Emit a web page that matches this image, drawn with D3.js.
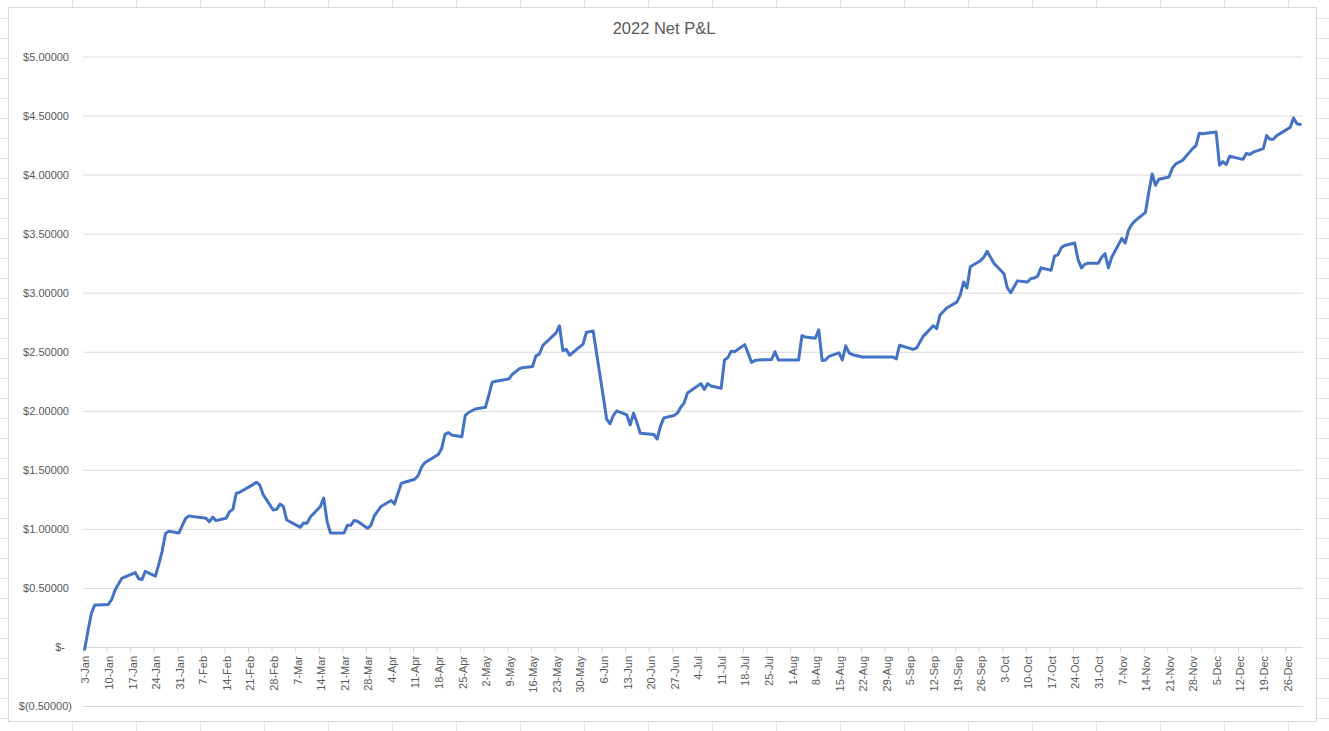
<!DOCTYPE html>
<html>
<head>
<meta charset="utf-8">
<script src="https://cdn.jsdelivr.net/npm/d3@7"></script>
<style>
  body { margin: 0; background: #fff; }
  svg { display: block; font-family: "Liberation Sans", Arial, sans-serif; }
</style>
</head>
<body>
<svg width="1329" height="731"></svg>
<script>
// trading days of 2022 (MM-DD) and cumulative net P&L
var tradeDates = [
  "01-03","01-04","01-05","01-06","01-07","01-10","01-11","01-12","01-13","01-14","01-18","01-19","01-20","01-21","01-24","01-25","01-26","01-27","01-28","01-31",
  "02-01","02-02","02-03","02-04","02-07","02-08","02-09","02-10","02-11","02-14","02-15","02-16","02-17","02-18","02-22","02-23","02-24","02-25","02-28",
  "03-01","03-02","03-03","03-04","03-07","03-08","03-09","03-10","03-11","03-14","03-15","03-16","03-17","03-18","03-21","03-22","03-23","03-24","03-25","03-28","03-29","03-30","03-31",
  "04-01","04-04","04-05","04-06","04-07","04-08","04-11","04-12","04-13","04-14","04-18","04-19","04-20","04-21","04-22","04-25","04-26","04-27","04-28","04-29",
  "05-02","05-03","05-04","05-05","05-06","05-09","05-10","05-11","05-12","05-13","05-16","05-17","05-18","05-19","05-20","05-23","05-24","05-25","05-26","05-27","05-31",
  "06-01","06-02","06-03","06-06","06-07","06-08","06-09","06-10","06-13","06-14","06-15","06-16","06-17","06-21","06-22","06-23","06-24","06-27","06-28","06-29","06-30",
  "07-01","07-05","07-06","07-07","07-08","07-11","07-12","07-13","07-14","07-15","07-18","07-19","07-20","07-21","07-22","07-25","07-26","07-27","07-28","07-29",
  "08-01","08-02","08-03","08-04","08-05","08-08","08-09","08-10","08-11","08-12","08-15","08-16","08-17","08-18","08-19","08-22","08-23","08-24","08-25","08-26","08-29","08-30","08-31",
  "09-01","09-02","09-06","09-07","09-08","09-09","09-12","09-13","09-14","09-15","09-16","09-19","09-20","09-21","09-22","09-23","09-26","09-27","09-28","09-29","09-30",
  "10-03","10-04","10-05","10-06","10-07","10-10","10-11","10-12","10-13","10-14","10-17","10-18","10-19","10-20","10-21","10-24","10-25","10-26","10-27","10-28","10-31",
  "11-01","11-02","11-03","11-04","11-07","11-08","11-09","11-10","11-11","11-14","11-15","11-16","11-17","11-18","11-21","11-22","11-23","11-25","11-28","11-29","11-30",
  "12-01","12-02","12-05","12-06","12-07","12-08","12-09","12-12","12-13","12-14","12-15","12-16","12-19","12-20","12-21","12-22","12-23","12-27","12-28","12-29","12-30"
];

var netPL = [
  -0.02,0.14,0.285,0.355,0.355,0.36,0.40,0.48,0.53,0.58,0.63,0.58,0.57,0.64,0.60,0.70,0.81,0.96,0.98,0.965,
  1.03,1.09,1.11,1.105,1.095,1.09,1.06,1.10,1.07,1.09,1.145,1.165,1.30,1.31,1.375,1.395,1.37,1.29,1.16,
  1.165,1.21,1.19,1.075,1.03,1.014,1.05,1.048,1.10,1.19,1.26,1.06,0.965,0.965,0.965,1.03,1.03,1.07,1.065,1.005,1.03,1.11,1.15,
  1.19,1.24,1.21,1.30,1.385,1.395,1.42,1.45,1.52,1.56,1.63,1.68,1.80,1.815,1.795,1.78,1.96,1.985,2.00,2.015,
  2.03,2.13,2.24,2.25,2.255,2.27,2.31,2.33,2.355,2.365,2.375,2.465,2.48,2.55,2.58,2.66,2.72,2.51,2.52,2.47,2.565,
  2.665,2.67,2.675,2.12,1.93,1.89,1.96,2.00,1.965,1.88,1.98,1.90,1.81,1.80,1.76,1.87,1.94,1.96,1.98,2.03,2.065,
  2.15,2.23,2.18,2.23,2.21,2.19,2.43,2.45,2.505,2.50,2.56,2.49,2.41,2.425,2.43,2.433,2.435,2.50,2.43,2.43,
  2.43,2.43,2.43,2.635,2.625,2.615,2.685,2.425,2.43,2.46,2.49,2.43,2.55,2.49,2.475,2.455,2.455,2.455,2.455,2.455,2.455,2.455,2.455,
  2.44,2.555,2.52,2.53,2.58,2.63,2.72,2.695,2.81,2.84,2.87,2.92,2.98,3.09,3.04,3.22,3.27,3.30,3.35,3.30,3.25,
  3.16,3.04,3.00,3.05,3.10,3.09,3.12,3.125,3.14,3.21,3.19,3.31,3.32,3.38,3.40,3.42,3.28,3.21,3.24,3.25,3.25,
  3.30,3.33,3.21,3.30,3.46,3.42,3.53,3.58,3.61,3.68,3.85,4.005,3.91,3.96,3.98,4.055,4.09,4.12,4.22,4.245,4.35,
  4.345,4.35,4.36,4.08,4.11,4.085,4.155,4.135,4.13,4.18,4.17,4.19,4.22,4.33,4.30,4.30,4.33,4.40,4.48,4.43,4.425
];

var yTicks = [-0.5, 0, 0.5, 1, 1.5, 2, 2.5, 3, 3.5, 4, 4.5, 5];
var chartTitle = "2022 Net P&L";

var parse = d3.utcParse("%Y-%m-%d");
var data = tradeDates.map(function(d, i) {
  // plot each day in the middle of its slot
  return { date: d3.utcHour.offset(parse("2022-" + d), 12), value: netPL[i] };
});

var svg = d3.select("svg");
var gridColor = "#d9d9d9",
  textColor = "#595959",
  sheetColor = "#e1e1e1";

// spreadsheet cells peeking out round the chart
var sheet = svg.append("g").attr("stroke", sheetColor).attr("stroke-width", 1);
d3.range(72.5, 1329, 64).forEach(function(x) {
  sheet.append("line").attr("x1", x).attr("x2", x).attr("y1", 0).attr("y2", 7);
  sheet.append("line").attr("x1", x).attr("x2", x).attr("y1", 722).attr("y2", 731);
});
d3.range(18.5, 731, 20).forEach(function(y) {
  sheet.append("line").attr("x1", 0).attr("x2", 8).attr("y1", y).attr("y2", y);
  sheet.append("line").attr("x1", 1317).attr("x2", 1329).attr("y1", y).attr("y2", y);
});

// chart area
svg.append("rect")
  .attr("x", 8.5).attr("y", 7.5)
  .attr("width", 1308).attr("height", 714)
  .attr("fill", "#fff")
  .attr("stroke", gridColor);

var left = 83, right = 1302;

var x = d3.scaleUtc()
  .domain([parse("2022-01-03"), parse("2022-12-31")])
  .range([left, right]);

var y = d3.scaleLinear()
  .domain([-0.5, 5])
  .range([706, 56.5]);

var fmt5 = d3.format(".5f");
function money(v) {
  if (v === 0) return "$-";
  if (v < 0) return "$(" + fmt5(-v) + ")";
  return "$" + fmt5(v);
}

// y axis with gridlines
var yAxis = svg.append("g")
  .attr("transform", "translate(" + left + ",0)")
  .call(d3.axisLeft(y).tickValues(yTicks).tickSize(-(right - left + 1)).tickPadding(14).tickFormat(money));
yAxis.select(".domain").remove();
yAxis.selectAll("line").attr("stroke", gridColor);
yAxis.selectAll("text")
  .attr("fill", textColor)
  .attr("font-size", 11)
  .attr("dx", function(d) { return d < 0 ? 3 : d === 0 ? -4 : 0; });

// x axis sitting on zero, weekly ticks on Mondays
var xAxis = svg.append("g")
  .attr("transform", "translate(0," + y(0) + ")")
  .call(d3.axisBottom(x).ticks(d3.utcMonday.every(1)).tickSize(6).tickFormat(d3.utcFormat("%-d-%b")));
xAxis.select(".domain").attr("stroke", gridColor).attr("d", "M" + left + ",0.5H" + (right + 1));
xAxis.selectAll("line").attr("stroke", gridColor);
xAxis.selectAll("text")
  .attr("fill", textColor)
  .attr("font-size", 11)
  .attr("text-anchor", "end")
  .attr("transform", "translate(2,0) rotate(-90)")
  .attr("x", -9)
  .attr("y", 0)
  .attr("dy", "0.35em");

// the P&L line
var line = d3.line()
  .x(function(d) { return x(d.date); })
  .y(function(d) { return y(d.value); });

svg.append("path")
  .datum(data)
  .attr("d", line)
  .attr("fill", "none")
  .attr("stroke", "#4472C4")
  .attr("stroke-width", 3)
  .attr("stroke-linejoin", "round")
  .attr("stroke-linecap", "round");

svg.append("text")
  .attr("x", 664)
  .attr("y", 34)
  .attr("text-anchor", "middle")
  .attr("font-size", 16.5)
  .attr("fill", textColor)
  .text(chartTitle);
</script>
</body>
</html>
